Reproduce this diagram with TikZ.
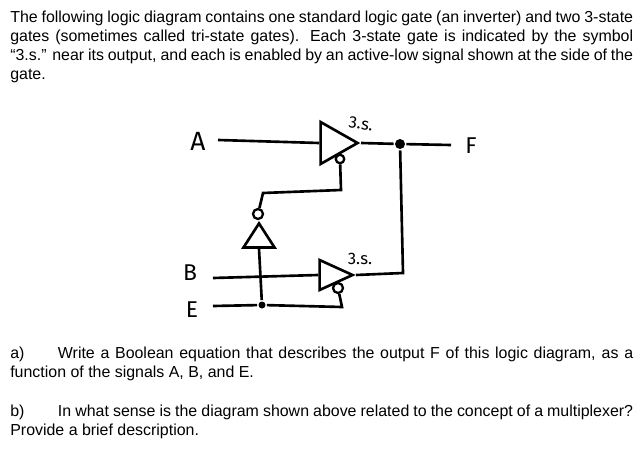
\documentclass[tikz,border=0pt]{standalone}
\usepackage{fontspec}
\setmainfont{Liberation Sans}
\newfontfamily\handfont{Fira Sans}
\usetikzlibrary{shapes.geometric}

\begin{document}
\begin{tikzpicture}[x=0.02cm,y=-0.02cm,line width=1.5pt]
	\tikzstyle{para} = [anchor=north west,inner sep=0pt,text width=12.46cm,align=justify,font=\fontsize{9.07pt}{10.75pt}\selectfont]
	\tikzstyle{gate} = [isosceles triangle,isosceles triangle stretches,draw,inner sep=0pt,anchor=apex]
	\tikzstyle{bubble} = [circle,draw,inner sep=0pt,minimum size=0.17cm,line width=1.3pt]
	\tikzstyle{dot} = [circle,fill,inner sep=0pt]
	\tikzstyle{hand} = [inner sep=0pt,font=\handfont\fontsize{13pt}{13pt}\selectfont]
	\tikzstyle{tag} = [inner sep=0pt,font=\handfont\fontsize{9.5pt}{9.5pt}\selectfont]

	\useasboundingbox (0,0) rectangle (641,449);

	% text
	\node[para] (intro) at (9,10) {The following logic diagram contains one standard logic gate (an inverter) and two 3-state gates (sometimes called tri-state gates). Each 3-state gate is indicated by the symbol ``3.s.'' near its output, and each is enabled by an active-low signal shown at the side of the gate.};
	\node[para] (parta) at (9,346) {a)\hspace{2.1em}Write a Boolean equation that describes the output F of this logic diagram, as a function of the signals A, B, and E.};
	\node[para] (partb) at (9,404) {b)\hspace{2.1em}In what sense is the diagram shown above related to the concept of a multiplexer? Provide a brief description.};

	% gates
	\node[gate,minimum height=0.74cm,minimum width=0.84cm] (g1) at (361,143) {};
	\node[gate,minimum height=0.66cm,minimum width=0.60cm] (g2) at (356,275) {};
	\node[gate,shape border rotate=90,minimum height=0.48cm,minimum width=0.62cm] (inv) at (259,220) {};
	\node[bubble] (b1) at (340,159) {};
	\node[bubble,minimum size=0.2cm] (b2) at (338,288) {};
	\node[bubble,minimum size=0.2cm] (b3) at (258,214) {};

	% labels
	\node[hand,font=\handfont\fontsize{15pt}{15pt}\selectfont] (lA) at (198,141) {A};
	\node[hand] (lF) at (471,146) {F};
	\node[hand] (lB) at (190,273) {B};
	\node[hand] (lE) at (192,310) {E};
	\node[tag,rotate=-8] (t1) at (361,124) {3.s.};
	\node[tag] (t2) at (360,259) {3.s.};

	% wire ends and corners
	\coordinate (a0) at (218,140);
	\coordinate (f0) at (451,145);
	\coordinate (b0) at (213,278);
	\coordinate (e0) at (213,306);
	\node[dot,minimum size=0.2cm] (jf) at (400,144) {};
	\node[dot,minimum size=0.14cm] (je) at (262,305) {};
	\coordinate (c1) at (341,190);
	\coordinate (c2) at (263,193);
	\coordinate (c3) at (342,307);
	\coordinate (c4) at (403,273);

	% wires
	\path (a0) edge (g1.lower side);
	\path (g1.apex) edge (jf);
	\path (jf) edge (f0);
	\draw (b1) -- (c1) -- (c2) -- (b3);
	\path (inv.lower side) edge (je);
	\path (b0) edge (g2.lower side);
	\path (e0) edge (je);
	\draw (je) -- (c3) -- (b2);
	\draw (g2.apex) -- (c4) -- (jf);
\end{tikzpicture}
\end{document}
